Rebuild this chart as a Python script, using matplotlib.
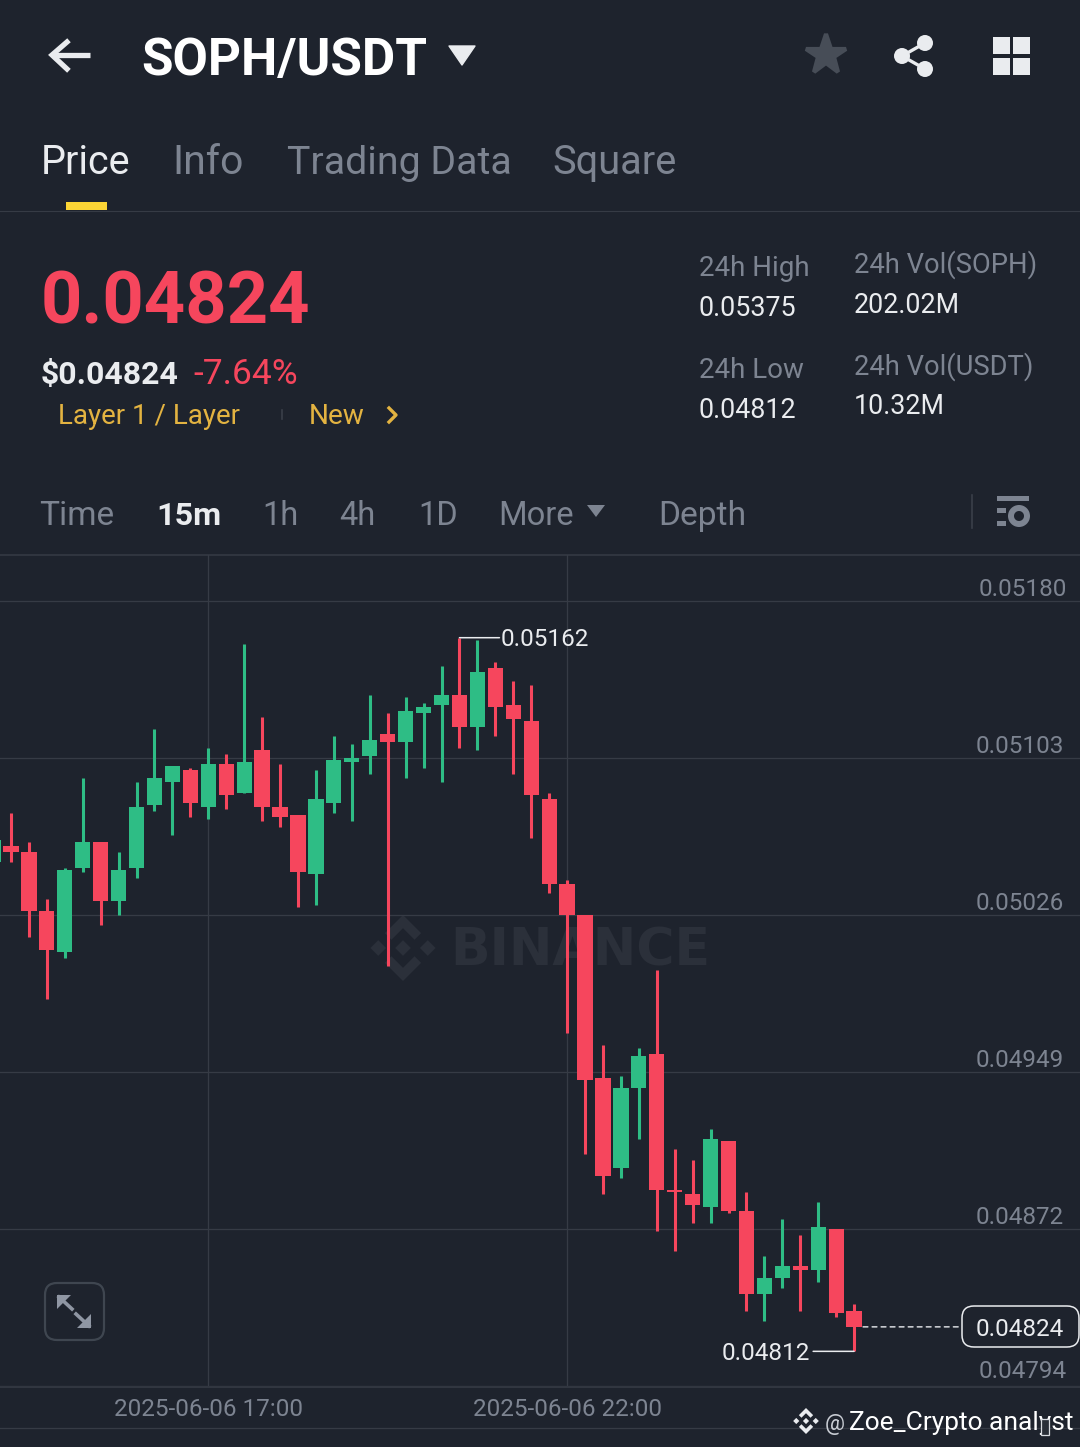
import matplotlib
matplotlib.use('Agg')
import matplotlib.pyplot as plt
from matplotlib.patches import FancyBboxPatch, Polygon, Rectangle, Circle, Wedge

plt.rcParams['font.family'] = ['Roboto', 'DejaVu Sans']

# Candles, in price ticks of 0.00001 (oldest first, first one is cut by the left edge)
opens = [5052, 5060, 5057, 5028, 5008, 5049, 5062, 5033, 5049, 5080, 5091, 5097, 5079, 5100, 5086, 5107, 5079, 5075,
         5046, 5081, 5101, 5104, 5115, 5111, 5125, 5129, 5134, 5118, 5147, 5129, 5121, 5083, 5041, 5026, 4946, 4902,
         4941, 4958, 4891, 4889, 4883, 4915, 4881, 4840, 4848, 4854, 4852, 4872, 4832]
closes = [5063, 5057, 5028, 5009, 5048, 5062, 5033, 5048, 5079, 5093, 5099, 5081, 5100, 5085, 5101, 5079, 5074, 5047,
          5083, 5102, 5103, 5112, 5111, 5126, 5128, 5134, 5118, 5145, 5128, 5122, 5085, 5041, 5026, 4945, 4898, 4941,
          4957, 4891, 4890, 4884, 4916, 4881, 4840, 4848, 4854, 4852, 4873, 4831, 4824]
highs = [5063, 5076, 5062, 5034, 5049, 5093, 5062, 5057, 5091, 5117, 5099, 5098, 5108, 5105, 5159, 5123, 5100, 5075,
         5097, 5114, 5110, 5134, 5125, 5133, 5130, 5148, 5162, 5161, 5150, 5141, 5139, 5086, 5043, 5026, 4962, 4947,
         4961, 4999, 4911, 4906, 4921, 4915, 4890, 4859, 4877, 4869, 4885, 4872, 4835]
lows = [5052, 5052, 5015, 4985, 5005, 5047, 5021, 5026, 5044, 5077, 5065, 5074, 5073, 5078, 5086, 5072, 5069, 5030,
        5031, 5076, 5072, 5095, 5001, 5093, 5098, 5091, 5108, 5107, 5114, 5095, 5064, 5037, 4968, 4909, 4889, 4897,
        4916, 4871, 4861, 4875, 4875, 4880, 4832, 4827, 4843, 4832, 4846, 4829, 4812]
up_flags = [c > o for o, c in zip(opens, closes)]

grid_prices = [0.05180, 0.05103, 0.05026, 0.04949, 0.04872, 0.04795]
grid_labels = ['0.05180', '0.05103', '0.05026', '0.04949', '0.04872', '0.04794']
time_idx = [12, 32]
time_labels = ['2025-06-06 17:00', '2025-06-06 22:00']
tick = 0.00001

BG = '#1e232d'
GRID = '#363b45'
GREEN = '#2ebd85'
RED = '#f6465d'
MUTED = '#7d8491'
LIGHT = '#eaecef'
YELLOW = '#e3b341'
FAINT = '#2b303a'

fig = plt.figure(figsize=(10.8, 14.47), dpi=100, facecolor=BG)

# Chart area, y=555..1386 in picture pixels
chart = fig.add_axes([0, 1 - 1386 / 1447, 1, (1386 - 555) / 1447], facecolor=BG)
chart.set_xlim(7 / 17.94, 1087 / 17.94)
chart.set_ylim(0.04795, 0.05180 + 46 / 157 * 0.00077)
chart.axis('off')

ui = fig.add_axes([0, 0, 1, 1], facecolor='none')
ui.set_xlim(0, 1080)
ui.set_ylim(1447, 0)
ui.axis('off')


def label(x, y, s, size, color=MUTED, ha='left', weight='normal'):
    ui.text(x, y, s, fontsize=size, color=color, ha=ha, va='baseline', fontweight=weight)


def binance_logo(ax, cx, cy, s, color, zorder=1):
    # s is half the full height of the logo
    u = s / 4.0
    d = u * 0.95
    ax.add_patch(Polygon([(cx, cy - d), (cx + d, cy), (cx, cy + d), (cx - d, cy)], color=color, lw=0, zorder=zorder))
    for sx in (-1, 1):
        x0 = cx + sx * 3.0 * u
        ax.add_patch(Polygon([(x0, cy - d), (x0 + d, cy), (x0, cy + d), (x0 - d, cy)], color=color, lw=0, zorder=zorder))
    for sy in (-1, 1):
        tip = (cx, cy + sy * s)
        ax.add_patch(Polygon([tip, (cx + 2.2 * u, cy + sy * 1.8 * u), (cx + 1.4 * u, cy + sy * 1.0 * u),
                              (cx, cy + sy * 2.4 * u), (cx - 1.4 * u, cy + sy * 1.0 * u),
                              (cx - 2.2 * u, cy + sy * 1.8 * u)], color=color, lw=0, zorder=zorder))


# Header
ui.plot([52, 90], [55, 55], color=LIGHT, lw=3.8, solid_capstyle='butt')
ui.plot([67, 52, 67], [42, 55, 69], color=LIGHT, lw=3.8, solid_joinstyle='miter')
label(141, 75, 'SOPH/USDT', 37, 'white', weight='bold')
ui.add_patch(Polygon([(449, 46), (475, 46), (462, 65)], color=LIGHT, lw=1, joinstyle='round'))
ui.plot([826], [55], marker='*', ms=30, color='#474d57', mec='#474d57', mew=3, ls='none', solid_joinstyle='round')
for px, py in [(902, 56), (925, 43), (925, 69)]:
    ui.add_patch(Circle((px, py), 8, color=LIGHT, lw=0))
ui.plot([925, 902, 925], [43, 56, 69], color=LIGHT, lw=2.4)
for px, py in [(993, 37), (1013, 37), (993, 58), (1013, 58)]:
    ui.add_patch(Rectangle((px, py), 17, 16.5, color=LIGHT, lw=0))

# Tabs
label(41, 174, 'Price', 28.5, LIGHT)
label(172, 174, 'Info', 29.5)
label(287, 174, 'Trading Data', 28.3)
label(552, 174, 'Square', 28.6)
ui.add_patch(Rectangle((66, 202), 41, 8, color='#fcd535', lw=0))
ui.plot([0, 1080], [210.5, 210.5], color=GRID, lw=0.8)

# Price block
label(41, 323, '0.04824', 52, RED, weight='bold')
label(41, 384, '$0.04824', 23, LIGHT, weight='bold')
label(193, 384, '-7.64%', 25.5, RED)
label(58, 424, 'Layer 1 / Layer', 20, YELLOW)
ui.plot([282, 282], [410, 419], color='#3a3f49', lw=1.2)
label(309, 424, 'New', 20.2, YELLOW)
ui.plot([389, 396, 389], [408, 415, 422], color=YELLOW, lw=2.4)

label(699, 276, '24h High', 20)
label(699, 316, '0.05375', 19.4, LIGHT)
label(699, 378, '24h Low', 20)
label(699, 418, '0.04812', 19.4, LIGHT)
label(854, 273, '24h Vol(SOPH)', 19.7)
label(854, 313, '202.02M', 19.4, LIGHT)
label(854, 375, '24h Vol(USDT)', 19.7)
label(854, 414, '10.32M', 19.4, LIGHT)

# Interval row
label(39.5, 525, 'Time', 24)
label(156.5, 525, '15m', 23.3, LIGHT, weight='bold')
label(262.5, 525, '1h', 23.5)
label(339.5, 525, '4h', 23.5)
label(418.5, 525, '1D', 23.5)
label(498.5, 525, 'More', 23.5)
ui.add_patch(Polygon([(587, 505), (605, 505), (596, 517)], color=MUTED, lw=0))
label(658.5, 525, 'Depth', 24.2)
ui.plot([972, 972], [495, 528], color='#3a3f49', lw=1.2)
ui.add_patch(Rectangle((997, 496), 32, 5, color=MUTED, lw=0))
ui.add_patch(Rectangle((997, 508), 9, 5, color=MUTED, lw=0))
ui.add_patch(Rectangle((997, 521), 9, 5, color=MUTED, lw=0))
ui.add_patch(Wedge((1019, 516), 11, 0, 360, width=6, color=MUTED, lw=0))
ui.plot([0, 1080], [554.5, 554.5], color=GRID, lw=1.1)

# Watermark
binance_logo(ui, 403, 948, 33, FAINT, zorder=0.5)
chart.annotate('BINANCE', xy=(0, 0), xycoords='figure pixels', xytext=(450, 1447 - 966), textcoords='figure pixels',
               fontsize=37.5, color=FAINT, fontweight='bold', family='DejaVu Sans', ha='left', va='baseline', zorder=0.5)

# Grid
for price, text in zip(grid_prices, grid_labels):
    chart.axhline(price, color=GRID, lw=0.9, zorder=1)
    offset = -13 if text in ('0.05180', '0.04794') else -16
    chart.annotate(text, xy=(1, price), xycoords=('axes fraction', 'data'),
                   xytext=(offset * 0.72, 8 * 0.72 if text == '0.04794' else 5 * 0.72),
                   textcoords='offset points', fontsize=17.5, color=MUTED, ha='right', va='baseline', zorder=3)
for idx, text in zip(time_idx, time_labels):
    chart.axvline(idx, color=GRID, lw=0.9, zorder=1)
    chart.annotate(text, xy=(idx, 0), xycoords=('data', 'axes fraction'), xytext=(0, -30 * 0.72),
                   textcoords='offset points', fontsize=17.5, color=MUTED, ha='center', va='baseline',
                   annotation_clip=False)

# Candles
xs = list(range(len(opens)))
colors = [GREEN if u else RED for u in up_flags]
chart.vlines(xs, [v * tick for v in lows], [v * tick for v in highs], colors=colors, lw=2.2, zorder=4)
bottoms = [min(o, c) * tick for o, c in zip(opens, closes)]
heights = [abs(c - o) * tick for o, c in zip(opens, closes)]
chart.bar(xs, heights, bottom=bottoms, width=0.85, color=colors, lw=0, zorder=5)

# High / low markers
hi_i = highs.index(max(highs))
lo_i = lows.index(min(lows))
chart.annotate('', xy=(hi_i, highs[hi_i] * tick), xytext=(40 * 0.72, 0), textcoords='offset points',
               arrowprops=dict(arrowstyle='-', color=LIGHT, lw=1.1, shrinkA=0, shrinkB=0), zorder=6)
chart.annotate('0.05162', xy=(hi_i, highs[hi_i] * tick), xytext=(41 * 0.72, -8 * 0.72), textcoords='offset points',
               fontsize=17.5, color=LIGHT, ha='left', va='baseline', zorder=6)
chart.annotate('', xy=(lo_i, lows[lo_i] * tick), xytext=(-41 * 0.72, 0), textcoords='offset points',
               arrowprops=dict(arrowstyle='-', color=LIGHT, lw=1.1, shrinkA=0, shrinkB=0), zorder=6)
chart.annotate('0.04812', xy=(lo_i, lows[lo_i] * tick), xytext=(-44 * 0.72, -9 * 0.72), textcoords='offset points',
               fontsize=17.5, color=LIGHT, ha='right', va='baseline', zorder=6)

# Last price line and box
last = closes[-1] * tick
chart.annotate('', xy=(lo_i + 0.45, last), xytext=(96 * 0.72, 0), textcoords='offset points',
               arrowprops=dict(arrowstyle='-', color=LIGHT, lw=1.0, ls=(0, (3.5, 3)), shrinkA=0, shrinkB=0), zorder=6)
ui.add_patch(FancyBboxPatch((970, 1314), 101, 25, boxstyle='round,pad=8,rounding_size=12', fc=BG, ec=LIGHT, lw=1.1,
                            zorder=6))
chart.annotate('0.04824', xy=(1, last), xycoords=('axes fraction', 'data'), xytext=(-16 * 0.72, -9 * 0.72),
               textcoords='offset points', fontsize=17.5, color=LIGHT, ha='right', va='baseline', zorder=6)
ui.set_zorder(1)
chart.set_zorder(2)
chart.patch.set_alpha(0)

# Expand button
ui.add_patch(FancyBboxPatch((53, 1291), 43, 41, boxstyle='round,pad=8,rounding_size=12', fc='none', ec='#3f4650', lw=1.6))
ui.plot([59, 72], [1297, 1309], color='#8f96a3', lw=2.6)
ui.add_patch(Polygon([(57, 1295), (71, 1295), (57, 1309)], color='#8f96a3', lw=0))
ui.plot([76, 89], [1314, 1326], color='#8f96a3', lw=2.6)
ui.add_patch(Polygon([(91, 1328), (77, 1328), (91, 1314)], color='#8f96a3', lw=0))

# Bottom rule and footer
ui.plot([0, 1080], [1386.5, 1386.5], color=GRID, lw=1.2)
ui.plot([0, 1080], [1427.5, 1427.5], color=GRID, lw=0.9)
binance_logo(ui, 806, 1421, 13, LIGHT, zorder=7)
label(825, 1430, '@', 16, '#c8ccd3')
label(849, 1430, 'Zoe_Crypto analyst', 19, 'white')
ui.add_patch(Rectangle((1041, 1419), 8, 16, fc='#2a2f38', ec='#d8dbe0', lw=0.9, zorder=7))

fig.savefig('out.png', dpi=100, facecolor=BG)
